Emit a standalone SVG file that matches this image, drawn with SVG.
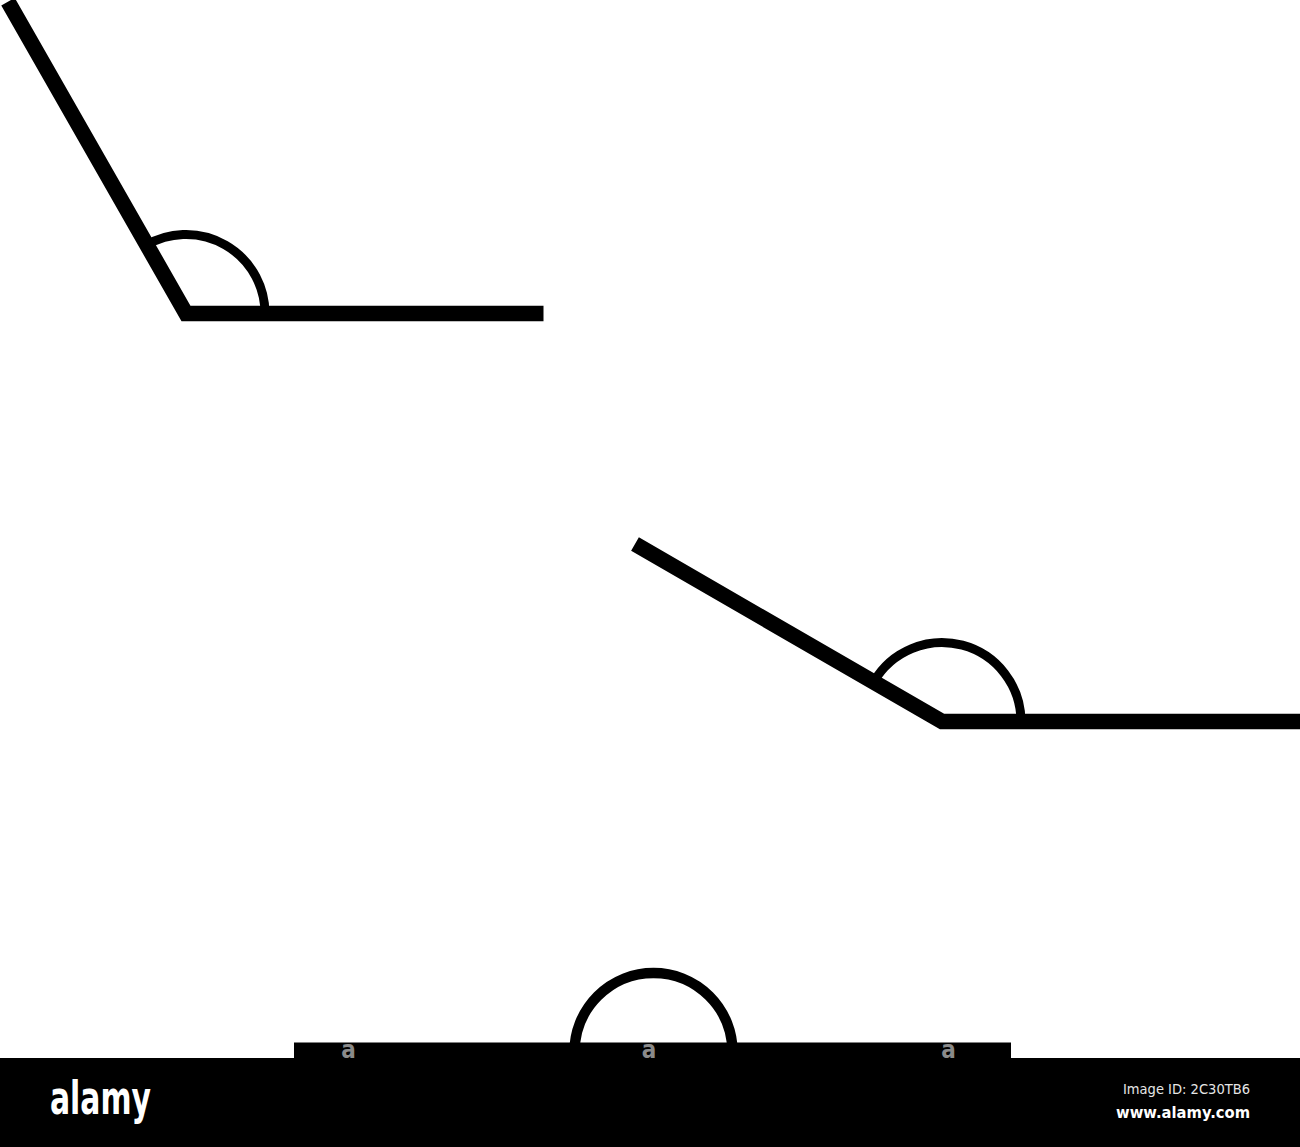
<svg xmlns="http://www.w3.org/2000/svg" width="1300" height="1147" viewBox="0 0 1300 1147">
  <style>
    .ray { fill: none; stroke: #000; stroke-width: 15.5; stroke-linejoin: miter; stroke-miterlimit: 10; stroke-linecap: butt; }
    .arc { fill: none; stroke: #000; stroke-width: 9; }
    .wm { font-family: "DejaVu Sans Condensed", "DejaVu Sans", sans-serif; font-weight: bold; font-size: 24px; fill: #8a8a8a; }
  </style>
  <rect width="1300" height="1147" fill="#fff"/>

  <g id="angle-obtuse-120">
    <path class="arc" d="M 265 313.5 A 79 79 0 0 0 146.5 245.1"/>
    <polyline class="ray" points="8,1.7 186,313.5 543.5,313.5"/>
  </g>

  <g id="angle-obtuse-150">
    <path class="arc" d="M 1021 721.5 A 79 79 0 0 0 873.6 682"/>
    <polyline class="ray" points="635,544 942,721.5 1310,721.5"/>
  </g>

  <g id="angle-straight-180">
    <path class="arc" style="stroke-width:10.5" d="M 574.5 1052 A 79 79 0 0 1 732.5 1052"/>
    <rect x="294" y="1042.5" width="717" height="17" fill="#000"/>
    <text class="wm" x="348.5" y="1057.5" text-anchor="middle">a</text>
    <text class="wm" x="649" y="1057.5" text-anchor="middle">a</text>
    <text class="wm" x="948.5" y="1057.5" text-anchor="middle">a</text>
  </g>

  <g id="footer">
    <rect x="0" y="1058" width="1300" height="89" fill="#000"/>
    <text x="50" y="1114" font-family="DejaVu Sans Condensed, DejaVu Sans, sans-serif" font-weight="bold" font-size="46" fill="#fff" textLength="101" lengthAdjust="spacingAndGlyphs">alamy</text>
    <text x="1250" y="1094" text-anchor="end" font-family="DejaVu Sans, sans-serif" font-size="14.5" fill="#e6e6e6" textLength="127" lengthAdjust="spacingAndGlyphs">Image ID: 2C30TB6</text>
    <text x="1250" y="1118" text-anchor="end" font-family="DejaVu Sans, sans-serif" font-weight="bold" font-size="15.5" fill="#fff" textLength="134" lengthAdjust="spacingAndGlyphs">www.alamy.com</text>
  </g>
</svg>
